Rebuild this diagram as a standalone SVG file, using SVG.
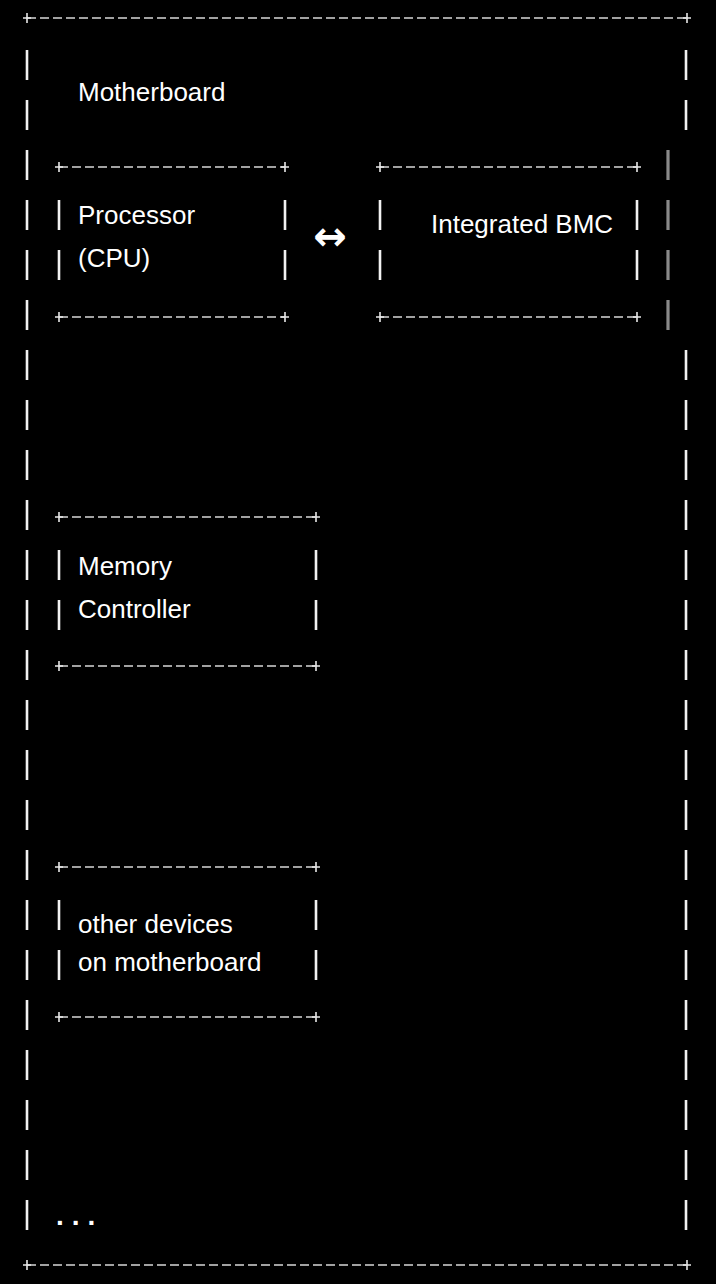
<svg xmlns="http://www.w3.org/2000/svg" width="716" height="1284" viewBox="0 0 716 1284">
<defs>
<style>
.bg{fill:#000}
.h{stroke:#d8d8d8;stroke-width:1.3;stroke-dasharray:9 4;fill:none}
.v{stroke:#f2f2f2;stroke-width:2.6;stroke-dasharray:30 20;fill:none}
.vg{stroke:#8a8a8a;stroke-width:3.2;stroke-dasharray:30 20;fill:none}
.c{stroke:#e8e8e8;stroke-width:1.6;fill:none}
.t{font-family:"Liberation Sans",Arial,sans-serif;font-size:26px;fill:#fff}
.dots{font-family:"Liberation Sans",Arial,sans-serif;font-size:28px;font-weight:bold;fill:#fff}
.arr{font-family:"DejaVu Sans",sans-serif;font-size:40px;font-weight:bold;fill:#fff}
</style>
</defs>
<rect class="bg" x="0" y="0" width="716" height="1284"/>

<g id="motherboard">
  <line class="h" x1="27" y1="18" x2="687" y2="18"/>
  <line class="h" x1="27" y1="1265" x2="687" y2="1265"/>
  <line class="v" x1="27" y1="50" x2="27" y2="1230"/>
  <line class="v" x1="686" y1="50" x2="686" y2="130"/>
  <line class="vg" x1="668" y1="150" x2="668" y2="330"/>
  <line class="v" x1="686" y1="350" x2="686" y2="1230"/>
  <path class="c" d="M23 18h8M27 13v10M683 18h8M687 13v10M23 1265h8M27 1260v10M683 1265h8M687 1260v10"/>
  <text class="t" x="78" y="101">Motherboard</text>
  <text class="dots" x="56" y="1225" letter-spacing="8">...</text>
</g>

<g id="cpu">
  <line class="h" x1="59" y1="167" x2="285" y2="167"/>
  <line class="h" x1="59" y1="317" x2="285" y2="317"/>
  <line class="v" x1="59" y1="200" x2="59" y2="280"/>
  <line class="v" x1="285" y1="200" x2="285" y2="280"/>
  <path class="c" d="M55 167h8M59 162v10M281 167h8M285 162v10M55 317h8M59 312v10M281 317h8M285 312v10"/>
  <text class="t" x="78" y="224">Processor</text>
  <text class="t" x="78" y="267">(CPU)</text>
</g>

<g id="bmc">
  <line class="h" x1="380" y1="167" x2="637" y2="167"/>
  <line class="h" x1="380" y1="317" x2="637" y2="317"/>
  <line class="v" x1="380" y1="200" x2="380" y2="280"/>
  <line class="v" x1="637" y1="200" x2="637" y2="280"/>
  <path class="c" d="M376 167h8M380 162v10M633 167h8M637 162v10M376 317h8M380 312v10M633 317h8M637 312v10"/>
  <text class="t" x="431" y="233">Integrated BMC</text>
</g>

<g id="memory">
  <line class="h" x1="59" y1="517" x2="316" y2="517"/>
  <line class="h" x1="59" y1="666" x2="316" y2="666"/>
  <line class="v" x1="59" y1="550" x2="59" y2="630"/>
  <line class="v" x1="316" y1="550" x2="316" y2="630"/>
  <path class="c" d="M55 517h8M59 512v10M312 517h8M316 512v10M55 666h8M59 661v10M312 666h8M316 661v10"/>
  <text class="t" x="78" y="575">Memory</text>
  <text class="t" x="78" y="618">Controller</text>
</g>

<g id="other">
  <line class="h" x1="59" y1="867" x2="316" y2="867"/>
  <line class="h" x1="59" y1="1017" x2="316" y2="1017"/>
  <line class="v" x1="59" y1="900" x2="59" y2="980"/>
  <line class="v" x1="316" y1="900" x2="316" y2="980"/>
  <path class="c" d="M55 867h8M59 862v10M312 867h8M316 862v10M55 1017h8M59 1012v10M312 1017h8M316 1012v10"/>
  <text class="t" x="78" y="933">other devices</text>
  <text class="t" x="78" y="971">on motherboard</text>
</g>

<g id="connectors">
  <text class="arr" x="330" y="250" text-anchor="middle">↔</text>
</g>
</svg>
